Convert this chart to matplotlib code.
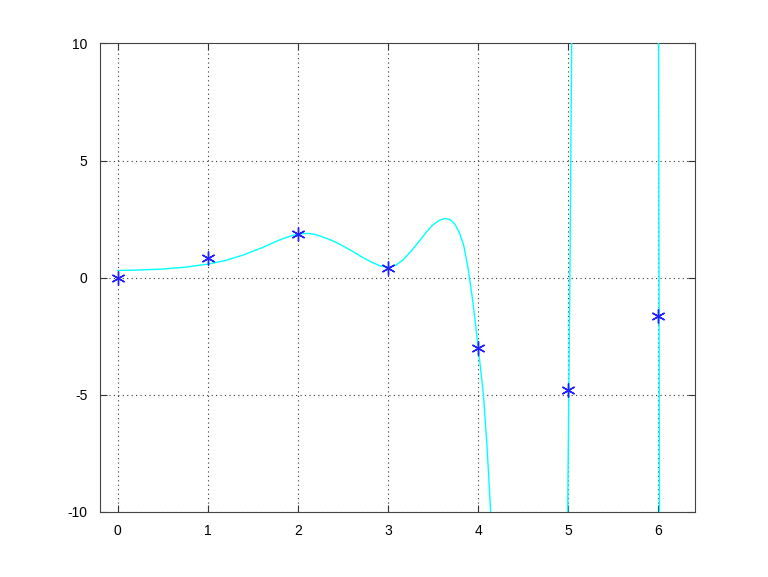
import numpy as np
import matplotlib
matplotlib.use('Agg')
import matplotlib.pyplot as plt

# data points (blue asterisks)
xp = [0, 1, 2, 3, 4, 5, 6]
yp = [0.0, 0.85, 1.85, 0.42, -3.0, -4.8, -1.65]

# fitted curve (values beyond +-10 are clipped by the axes)
curve_x = [0.0, 0.25, 0.5, 0.75, 1.0, 1.2, 1.4, 1.6, 1.8, 1.95, 2.05, 2.12, 2.2,
           2.36, 2.45, 2.54, 2.64, 2.73, 2.82, 2.91, 2.97, 3.02, 3.09, 3.17, 3.26,
           3.36, 3.43, 3.5, 3.57, 3.63, 3.69, 3.74, 3.79, 3.84, 3.89, 3.94, 3.97,
           4.0, 4.03, 4.06, 4.1, 4.14, 4.2, 4.4, 4.7, 4.95, 4.996, 5.02, 5.04,
           5.1, 5.5, 5.9, 6.005, 6.01, 6.015]
curve_y = [0.31, 0.33, 0.37, 0.45, 0.58, 0.74, 0.98, 1.28, 1.62, 1.82, 1.88, 1.89, 1.84,
           1.62, 1.46, 1.27, 1.05, 0.84, 0.66, 0.51, 0.46, 0.45, 0.54, 0.77, 1.15,
           1.62, 1.97, 2.26, 2.45, 2.53, 2.48, 2.3, 1.95, 1.4, 0.4, -0.95, -1.9,
           -2.95, -3.95, -5.0, -7.2, -10.0, -13.0, -30.0, -80.0, -40.0, -10.0, 0.0, 10.0,
           40.0, 80.0, 40.0, 10.0, 0.0, -10.0]

xticks = [0, 1, 2, 3, 4, 5, 6]
yticks = [-10, -5, 0, 5, 10]

plt.rcParams['font.family'] = ['Liberation Sans', 'DejaVu Sans']
plt.rcParams['axes.unicode_minus'] = False

fig = plt.figure(figsize=(7.68, 5.77), dpi=100)
ax = fig.add_axes([0.13, 0.1127, 0.775, 0.812])

ax.plot(curve_x, curve_y, color='cyan', lw=1.0, zorder=3)
ax.plot(xp, yp, linestyle='none', marker=(6, 2, 0), color='#2020ff',
        markersize=10, markeredgewidth=1.0, zorder=4)

ax.set_xlim(-0.2, 6.41)
ax.set_ylim(-10, 10)
ax.set_xticks(xticks)
ax.set_yticks(yticks)
ax.grid(True, linestyle=(0, (1, 3)), color='#333333', lw=0.8)
ax.tick_params(direction='in', top=True, right=True, length=5, color='#333333',
               labelsize=10, pad=9)
for s in ax.spines.values():
    s.set_color('#444444')
    s.set_linewidth(0.8)

plt.savefig('out.png', dpi=100)
